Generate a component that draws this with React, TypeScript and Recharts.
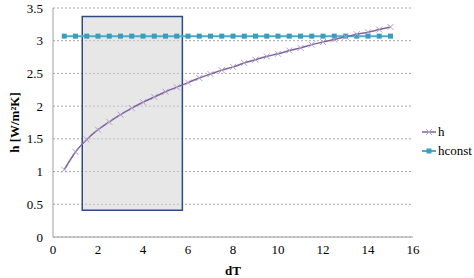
import React from 'react';
import {
  LineChart,
  Line,
  XAxis,
  YAxis,
  CartesianGrid,
  ReferenceArea,
} from 'recharts';

const dT = [
  0.5, 1, 1.5, 2, 2.5, 3, 3.5, 4, 4.5, 5, 5.5, 6, 6.5, 7, 7.5,
  8, 8.5, 9, 9.5, 10, 10.5, 11, 11.5, 12, 12.5, 13, 13.5, 14, 14.5, 15,
];
const hValues = [
  1.03, 1.3, 1.49, 1.64, 1.76, 1.87, 1.97, 2.06, 2.14, 2.22, 2.29, 2.36, 2.43, 2.49, 2.55,
  2.6, 2.66, 2.71, 2.76, 2.8, 2.85, 2.89, 2.94, 2.98, 3.02, 3.06, 3.1, 3.13, 3.17, 3.21,
];
const hConstValues = [
  3.07, 3.07, 3.07, 3.07, 3.07, 3.07, 3.07, 3.07, 3.07, 3.07, 3.07, 3.07, 3.07, 3.07, 3.07,
  3.07, 3.07, 3.07, 3.07, 3.07, 3.07, 3.07, 3.07, 3.07, 3.07, 3.07, 3.07, 3.07, 3.07, 3.07,
];
const xTicks = [0, 2, 4, 6, 8, 10, 12, 14, 16];
const yTicks = [0, 0.5, 1, 1.5, 2, 2.5, 3, 3.5];
// highlighted window
const boxX = [1.3, 5.75];
const boxY = [0.41, 3.37];

const data = dT.map((d, i) => ({ dT: d, h: hValues[i], hconst: hConstValues[i] }));

const colors = {
  h: '#7f63a1',
  hMarker: '#b3a0cc',
  hconst: '#4bacc6',
  hconstMarker: '#3a9dbb',
  grid: '#a6a6a6',
  axis: '#a0a0a0',
  text: '#000',
  boxStroke: '#2f4b84',
};

const font = "'Liberation Serif', 'DejaVu Serif', serif";

const CrossDot = (props: any) => {
  const { cx, cy } = props;
  if (cx == null || cy == null) return null;
  const s = 3;
  return (
    <g stroke={colors.hMarker} strokeWidth={1}>
      <line x1={cx - s} y1={cy - s} x2={cx + s} y2={cy + s} />
      <line x1={cx - s} y1={cy + s} x2={cx + s} y2={cy - s} />
    </g>
  );
};

const SquareDot = (props: any) => {
  const { cx, cy } = props;
  if (cx == null || cy == null) return null;
  return <rect x={cx - 2.5} y={cy - 2.5} width={5} height={5} fill={colors.hconstMarker} />;
};

export default function App() {
  return (
    <div style={{ position: 'absolute', left: 0, top: 0, width: 474, height: 278, background: '#fff', fontFamily: font }}>
      <style>{`svg text { font-family: ${font} !important; }`}</style>
      <LineChart
        width={474}
        height={278}
        data={data}
        margin={{ top: 8, right: 61, left: 0, bottom: 0 }}
        style={{ fontFamily: font }}
      >
        <CartesianGrid vertical={false} stroke={colors.grid} strokeDasharray="2 2" />
        <XAxis
          dataKey="dT"
          type="number"
          domain={[0, 16]}
          ticks={xTicks}
          height={41}
          tick={{ fontSize: 13, fill: colors.text, fontFamily: font }}
          axisLine={{ stroke: colors.axis }}
          tickLine={false}
          label={{ value: 'dT', position: 'insideBottom', offset: 3, style: { fontSize: 13, fontWeight: 'bold', fill: colors.text, fontFamily: font } }}
        />
        <YAxis
          type="number"
          domain={[0, 3.5]}
          ticks={yTicks}
          width={53}
          tick={{ fontSize: 13, fill: colors.text, fontFamily: font }}
          axisLine={{ stroke: colors.axis }}
          tickLine={false}
          tickMargin={4}
          label={{ value: 'h [W/m²K]', angle: -90, position: 'insideLeft', offset: 14, style: { textAnchor: 'middle', fontSize: 13, fontWeight: 'bold', fill: colors.text, fontFamily: font } }}
        />
        <Line
          dataKey="hconst"
          stroke={colors.hconst}
          strokeWidth={2}
          dot={<SquareDot />}
          activeDot={false}
          isAnimationActive={false}
        />
        <Line
          type="monotone"
          dataKey="h"
          stroke={colors.h}
          strokeWidth={1.5}
          dot={<CrossDot />}
          activeDot={false}
          isAnimationActive={false}
        />
        <ReferenceArea
          x1={boxX[0]}
          x2={boxX[1]}
          y1={boxY[0]}
          y2={boxY[1]}
          fill="#d4d4d4"
          fillOpacity={0.55}
          stroke={colors.boxStroke}
          strokeWidth={1.5}
          ifOverflow="visible"
        />
      </LineChart>
      <div style={{ position: 'absolute', left: 422, top: 122, fontSize: 13, lineHeight: '19px', color: colors.text }}>
        <div style={{ display: 'flex', alignItems: 'center' }}>
          <svg width={16} height={10}>
            <line x1={0} y1={5} x2={14} y2={5} stroke={colors.h} strokeWidth={1.5} />
            <line x1={4} y1={2} x2={10} y2={8} stroke={colors.hMarker} />
            <line x1={4} y1={8} x2={10} y2={2} stroke={colors.hMarker} />
          </svg>
          <span>h</span>
        </div>
        <div style={{ display: 'flex', alignItems: 'center' }}>
          <svg width={16} height={10}>
            <line x1={0} y1={5} x2={14} y2={5} stroke={colors.hconst} strokeWidth={2} />
            <rect x={4.5} y={2.5} width={5} height={5} fill={colors.hconstMarker} />
          </svg>
          <span>hconst</span>
        </div>
      </div>
    </div>
  );
}
